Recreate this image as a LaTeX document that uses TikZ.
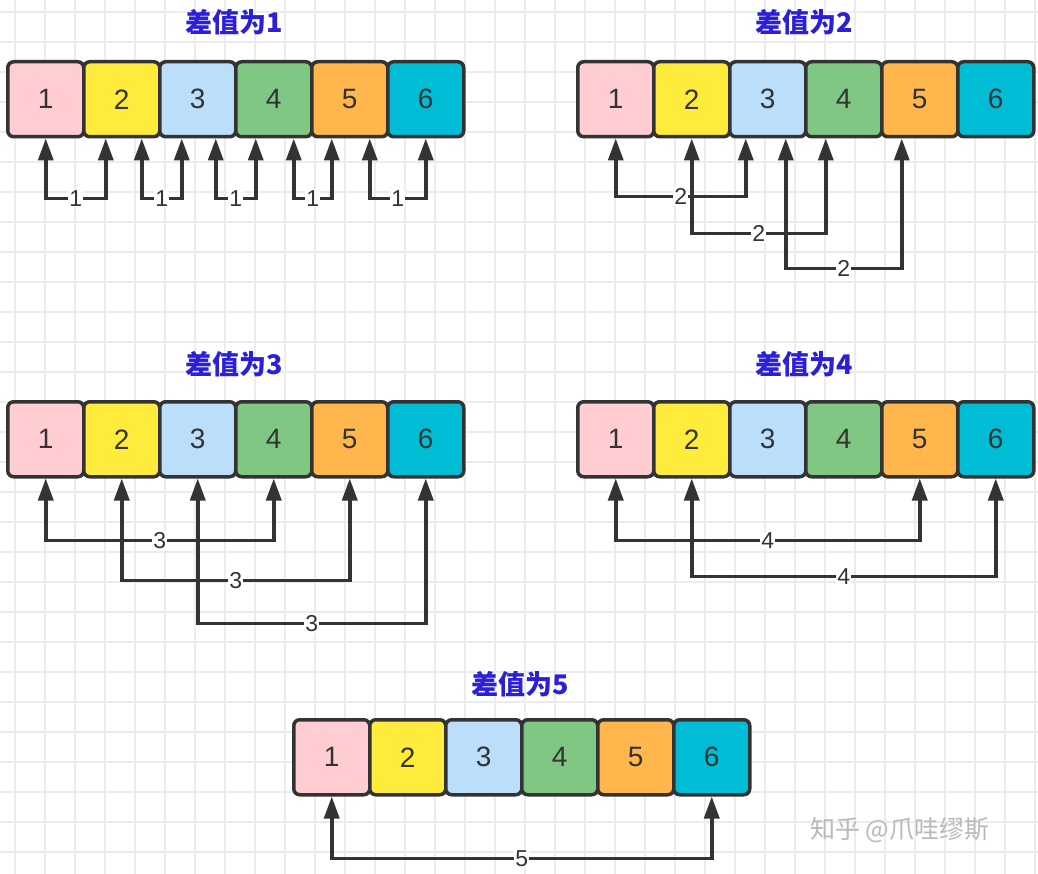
\documentclass[tikz,border=0pt]{standalone}
\usepackage{fontspec}
\setmainfont{Liberation Sans}
\newfontfamily\cjk{Noto Sans CJK SC}
\usetikzlibrary{arrows.meta}
\definecolor{cA}{HTML}{FFCDD2}
\definecolor{cB}{HTML}{FFEB3B}
\definecolor{cC}{HTML}{BBDEFB}
\definecolor{cD}{HTML}{81C784}
\definecolor{cE}{HTML}{FFB74D}
\definecolor{cF}{HTML}{00BCD4}
\definecolor{ink}{HTML}{333333}
\definecolor{ttl}{HTML}{2B1FD8}
\tikzset{
 box/.style={draw=ink,line width=3.5pt,rounded corners=6pt,minimum width=76pt,minimum height=75pt,inner sep=0pt,font=\fontsize{28}{28}\selectfont,text=ink,anchor=north west},
 arr/.style={draw=ink,line width=3.5pt,{Triangle[width=15pt,length=22pt]}-{Triangle[width=15pt,length=22pt]}},
 lab/.style={fill=white,inner sep=1pt,font=\fontsize{23}{23}\selectfont,text=ink},
 ttl/.style={font=\cjk\bfseries\fontsize{27}{27}\selectfont,text=ttl}
}
\newcommand{\myrow}[3]{% name, x, y
 \node[box,fill=cA] (#1a) at (#2,#3) {1};
 \node[box,fill=cB] (#1b) at (#2+76,#3) {2};
 \node[box,fill=cC] (#1c) at (#2+152,#3) {3};
 \node[box,fill=cD] (#1d) at (#2+228,#3) {4};
 \node[box,fill=cE] (#1e) at (#2+304,#3) {5};
 \node[box,fill=cF] (#1f) at (#2+380,#3) {6};
}
\begin{document}
\begin{tikzpicture}[x=1pt,y=-1pt]
\useasboundingbox (0,0) rectangle (1038,874);
\fill[white] (0,0) rectangle (1038,874);
\foreach \i in {0,30,...,1038} \draw[gray!15,line width=1.2pt] (\i+15,0) -- (\i+15,874);
\foreach \i in {0,30,...,874} \draw[gray!15,line width=1.2pt] (0,\i+12) -- (1038,\i+12);
% group 1
\node[ttl] (t1) at (234,22) {差值为1};
\myrow{p}{6}{60}
\draw[arr] (pa.south) -- ++(0,60) -| node[pos=0.25,lab]{1} ([xshift=-16pt]pb.south);
\draw[arr] ([xshift=20pt]pb.south) -- ++(0,60) -| node[pos=0.25,lab]{1} ([xshift=-16pt]pc.south);
\draw[arr] ([xshift=18pt]pc.south) -- ++(0,60) -| node[pos=0.25,lab]{1} ([xshift=-18pt]pd.south);
\draw[arr] ([xshift=20pt]pd.south) -- ++(0,60) -| node[pos=0.25,lab]{1} ([xshift=-18pt]pe.south);
\draw[arr] ([xshift=20pt]pe.south) -- ++(0,60) -| node[pos=0.25,lab]{1} (pf.south);
% group 2
\node[ttl] (t2) at (804,22) {差值为2};
\myrow{q}{576}{60}
\draw[arr] (qa.south) -- ++(0,58) -| node[pos=0.25,lab]{2} ([xshift=-22pt]qc.south);
\draw[arr] (qb.south) -- ++(0,95) -| node[pos=0.25,lab]{2} ([xshift=-18pt]qd.south);
\draw[arr] ([xshift=18pt]qc.south) -- ++(0,130) -| node[pos=0.25,lab]{2} ([xshift=-18pt]qe.south);
% group 3
\node[ttl] (t3) at (234,364) {差值为3};
\myrow{r}{6}{400}
\draw[arr] (ra.south) -- ++(0,62) -| node[pos=0.25,lab]{3} (rd.south);
\draw[arr] (rb.south) -- ++(0,102) -| node[pos=0.25,lab]{3} (re.south);
\draw[arr] (rc.south) -- ++(0,145) -| node[pos=0.25,lab]{3} (rf.south);
% group 4
\node[ttl] (t4) at (804,364) {差值为4};
\myrow{s}{576}{400}
\draw[arr] (sa.south) -- ++(0,62) -| node[pos=0.25,lab]{4} (se.south);
\draw[arr] (sb.south) -- ++(0,98) -| node[pos=0.25,lab]{4} (sf.south);
% group 5
\node[ttl] (t5) at (520,684) {差值为5};
\myrow{u}{292}{718}
\draw[arr] (ua.south) -- ++(0,62) -| node[pos=0.25,lab]{5} (uf.south);
% watermark
\node[font=\cjk\fontsize{25}{25}\selectfont,text=gray!55] (wm) at (900,830) {知乎 @爪哇缪斯};
\end{tikzpicture}
\end{document}
